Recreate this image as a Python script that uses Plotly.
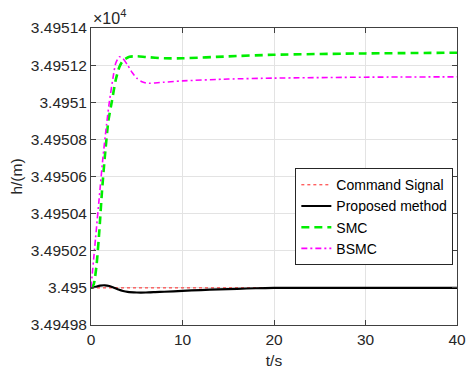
import plotly.graph_objects as go

# ---- data (h in metres, t in seconds) ----
t_cmd = [0, 40]
h_cmd = [34950.0, 34950.0]

t_prop = [0, 0.5, 1.0, 1.5, 2.0, 2.5, 3.0, 3.5, 4.0, 5.0, 6.0, 7.0, 8.0, 10, 12, 14, 16, 18, 20, 25, 30, 40]
h_prop = [34950.0, 34950.006, 34950.012, 34950.014, 34950.010, 34950.001, 34949.991, 34949.983,
          34949.978, 34949.975, 34949.975, 34949.977, 34949.979, 34949.984, 34949.988, 34949.992,
          34949.995, 34949.998, 34950.0, 34950.0, 34950.0, 34950.0]

t_smc = [0, 0.3, 0.6, 0.9, 1.2, 1.5, 1.9, 2.3, 2.7, 3.1, 3.5, 4.2, 5.0, 6.0, 8.0, 10, 15, 20, 30, 40]
h_smc = [34950.0, 34950.02, 34950.12, 34950.30, 34950.52, 34950.70, 34950.90, 34951.01, 34951.12,
         34951.19, 34951.225, 34951.245, 34951.248, 34951.244, 34951.237, 34951.237, 34951.247,
         34951.256, 34951.263, 34951.267]

t_bsmc = [0, 0.5, 1.0, 1.3, 1.7, 2.0, 2.4, 2.7, 3.1, 3.5, 4.0, 4.5, 5.0, 5.5, 6.0, 6.5, 7.0, 8.0, 10, 15, 20, 30, 40]
h_bsmc = [34950.0, 34950.27, 34950.54, 34950.70, 34950.88, 34951.0, 34951.13, 34951.21, 34951.245,
          34951.235, 34951.20, 34951.16, 34951.13, 34951.112, 34951.104, 34951.102, 34951.104,
          34951.108, 34951.115, 34951.125, 34951.13, 34951.135, 34951.137]

y_tick_labels = ["3.49498", "3.495", "3.49502", "3.49504", "3.49506", "3.49508", "3.4951", "3.49512", "3.49514"]
x_tick_vals = [0, 10, 20, 30, 40]

FONT = "Liberation Sans, Arial, sans-serif"
TXT = "#262626"

fig = go.Figure()
fig.add_trace(go.Scatter(x=t_cmd, y=h_cmd, mode="lines", name="Command Signal",
                         line=dict(color="#ff2020", width=1, dash="dot")))
fig.add_trace(go.Scatter(x=t_prop, y=h_prop, mode="lines", name="Proposed method",
                         line=dict(color="black", width=2.2, shape="spline", smoothing=0.6)))
fig.add_trace(go.Scatter(x=t_smc, y=h_smc, mode="lines", name="SMC",
                         line=dict(color="#00ee00", width=2.6, dash="8px,5px", shape="spline", smoothing=0.6)))
fig.add_trace(go.Scatter(x=t_bsmc, y=h_bsmc, mode="lines", name="BSMC",
                         line=dict(color="#ff00ff", width=1.6, dash="6px,3px,2px,3px", shape="spline", smoothing=0.6)))

# The page body has an 8px margin, so the figure is sized to fit inside it.
fig.update_layout(
    width=458, height=363,
    margin=dict(l=83, r=9, t=20, b=46, autoexpand=False),
    paper_bgcolor="white", plot_bgcolor="white",
    font=dict(family=FONT, size=15.5, color=TXT),
    showlegend=True,
    legend=dict(x=0.99, xanchor="right", y=0.528, yanchor="top",
                bgcolor="white", bordercolor="#262626", borderwidth=1,
                font=dict(family=FONT, size=14, color="black"),
                tracegroupgap=0, itemwidth=30),
)
fig.update_xaxes(
    range=[0, 40], tickvals=x_tick_vals,
    showline=True, linecolor="#404040", linewidth=1, mirror="ticks",
    ticks="inside", ticklen=5, tickcolor="#404040",
    showgrid=True, gridcolor="#e3e3e3", gridwidth=1, zeroline=False,
    title=dict(text="t/s", font=dict(family=FONT, size=15.5, color=TXT), standoff=8),
)
fig.update_yaxes(
    range=[34949.8, 34951.4],
    tickvals=[float(s) * 1e4 for s in y_tick_labels], ticktext=y_tick_labels,
    showline=True, linecolor="#404040", linewidth=1, mirror="ticks",
    ticks="inside", ticklen=5, tickcolor="#404040",
    showgrid=True, gridcolor="#e3e3e3", gridwidth=1, zeroline=False,
    title=dict(text="h/(m)", font=dict(family=FONT, size=15.5, color=TXT), standoff=6),
)
fig.add_annotation(text="×10<sup>4</sup>", xref="paper", yref="paper", x=0, y=1,
                   xanchor="left", yanchor="bottom", showarrow=False, yshift=-1,
                   font=dict(family=FONT, size=16, color=TXT))

fig.write_html("out.html")
